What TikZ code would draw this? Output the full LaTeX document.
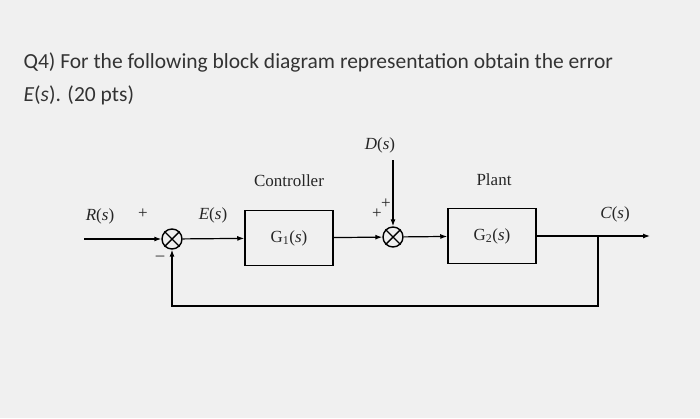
\documentclass[tikz,border=0pt]{standalone}
\usepackage{fontspec}
\setmainfont{Liberation Serif}
\newfontfamily\titlefont{Carlito}
\usetikzlibrary{arrows.meta}
\begin{document}
\begin{tikzpicture}[x=1pt,y=-1pt,
  blk/.style={draw,line width=1.5pt,minimum width=88pt,minimum height=55pt,inner sep=0},
  sumj/.style={draw,line width=1.4pt,circle,minimum size=20pt,inner sep=0},
  sig/.style={line width=1.2pt,-{Latex[length=7pt,width=5pt]}},
  ln/.style={line width=1.4pt},
  lab/.style={font=\fontsize{17}{19}\selectfont,text=black!85}]
\fill[gray!12] (0,0) rectangle (700,418);
\useasboundingbox (0,0) rectangle (700,418);
\node[anchor=west,font=\titlefont\fontsize{21.5}{24}\selectfont,text=black!80] (t1) at (20,62) {Q4) For the following block diagram representation obtain the error};
\node[anchor=west,font=\titlefont\fontsize{21.5}{24}\selectfont,text=black!80] (t2) at (20,95) {\textit{E}(\textit{s}). (20 pts)};
\node[sumj] (s1) at (172,239) {};
\draw[ln] (s1.45) -- (s1.225) (s1.135) -- (s1.315);
\node[blk] (g1) at (289,238) {};
\node[lab] at (g1) {G\textsubscript{1}(\textit{s})};
\node[lab] (ctl) at (289,181) {Controller};
\node[sumj] (s2) at (393,237) {};
\draw[ln] (s2.45) -- (s2.225) (s2.135) -- (s2.315);
\node[blk] (g2) at (492,236) {};
\node[lab] at (g2) {G\textsubscript{2}(\textit{s})};
\node[lab] (pl) at (494,180) {Plant};
\coordinate (rin) at (84,239);
\coordinate (dtop) at (393,160);
\coordinate (cout) at (650,236);
\coordinate (br) at (598,236);
\node[lab] (R) at (100,216) {\textit{R}(\textit{s})};
\node[lab] (E) at (213,215) {\textit{E}(\textit{s})};
\node[lab] (D) at (380,145) {\textit{D}(\textit{s})};
\node[lab] (C) at (615,214) {\textit{C}(\textit{s})};
\node[lab] at (143,214) {+};
\node[lab] at (160,258) {--};
\node[lab] at (377,214) {+};
\node[lab] at (386,204) {+};
\draw[sig] (rin) -- (s1);
\draw[sig] (s1) -- (g1);
\draw[sig] (g1) -- (s2);
\draw[sig] (dtop) -- (s2);
\draw[sig] (s2) -- (g2);
\draw[sig] (g2) -- (cout);
\draw[sig] (br) -- (598,306) -- (172,306) -- (s1);
\end{tikzpicture}
\end{document}
